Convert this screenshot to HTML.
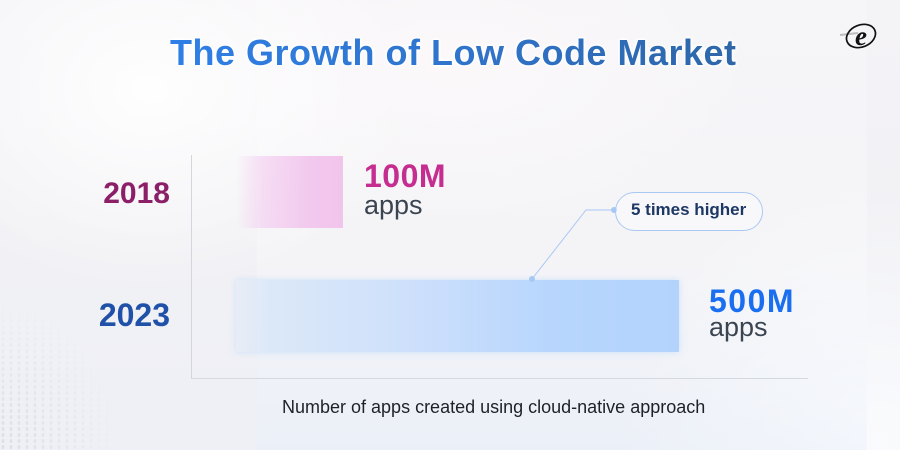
<!DOCTYPE html>
<html>
<head>
<meta charset="utf-8">
<style>
  html,body{margin:0;padding:0;}
  body{width:900px;height:450px;overflow:hidden;position:relative;font-family:"Liberation Sans",sans-serif;
    background:
      radial-gradient(ellipse 260px 200px at 150px 90px, rgba(255,255,255,0.95), rgba(255,255,255,0) 100%),
      radial-gradient(ellipse 300px 160px at 450px 60px, rgba(252,248,250,0.9), rgba(252,248,250,0) 100%),
      radial-gradient(ellipse 260px 260px at 880px 440px, rgba(250,251,253,1), rgba(250,251,253,0) 100%),
      linear-gradient(180deg,#f4f3f6 0%,#f1f1f5 60%,#eef0f6 100%);
  }
  .abs{position:absolute;white-space:nowrap;}
  .title{left:170px;top:31px;font-size:36px;font-weight:bold;letter-spacing:0.5px;line-height:44px;
    background:linear-gradient(90deg,#2f7fe6 0%,#2f74cc 50%,#2e66a8 100%);-webkit-background-clip:text;background-clip:text;color:transparent;
    filter:drop-shadow(0 0 1px #fff) drop-shadow(0 0 1px #fff) drop-shadow(0 0 1px #fff);}
  .year{font-weight:bold;line-height:1;}
  .big{font-weight:bold;line-height:1;}
  .apps{font-size:27px;color:#3b4552;line-height:1;}
</style>
</head>
<body>
<!-- lighter panel band -->
<div class="abs" style="left:257px;top:0;width:610px;height:450px;background:linear-gradient(180deg,rgba(255,255,255,0.15),rgba(255,255,255,0.25) 60%,rgba(230,238,250,0.35));"></div>
<!-- dotted decoration bottom-left -->
<svg class="abs" style="left:0;top:300px" width="120" height="150">
  <defs>
    <pattern id="dp" width="8" height="6" patternUnits="userSpaceOnUse">
      <ellipse cx="3" cy="3" rx="1.4" ry="2" fill="#d9d9e0"/>
    </pattern>
    <radialGradient id="fm" cx="0" cy="1" r="1">
      <stop offset="0" stop-color="#fff" stop-opacity="0.8"/>
      <stop offset="1" stop-color="#fff" stop-opacity="0"/>
    </radialGradient>
    <mask id="mk"><rect width="120" height="150" fill="url(#fm)"/></mask>
  </defs>
  <rect width="120" height="150" fill="url(#dp)" mask="url(#mk)"/>
</svg>

<div class="abs title">The Growth of Low Code Market</div>

<!-- logo -->
<svg class="abs" style="left:838px;top:18px" width="44" height="38">
  <path d="M2 17 L20 15" stroke="#999" stroke-width="2" opacity="0.6"/>
  <ellipse cx="23" cy="18" rx="15" ry="11" transform="rotate(-22 23 18)" fill="none" stroke="#111" stroke-width="1.7"/>
  <text x="23" y="27" text-anchor="middle" font-family="Liberation Serif,serif" font-style="italic" font-weight="bold" font-size="27" fill="#111">e</text>
</svg>

<!-- axes -->
<div class="abs" style="left:191px;top:155px;width:1px;height:224px;background:#d4d6de;"></div>
<div class="abs" style="left:191px;top:378px;width:617px;height:1px;background:#d4d8e2;"></div>

<!-- bars -->
<div class="abs" style="left:236px;top:156px;width:107px;height:72px;background:linear-gradient(90deg,rgba(243,198,238,0) 0%,rgba(243,198,238,0.55) 25%,#f2c8ee 70%,#f1c4ec 100%);"></div>
<div class="abs" style="left:236px;top:280px;width:443px;height:72px;background:linear-gradient(90deg,rgba(200,220,248,0.2) 0%,#dbe8f8 8%,#cde0fb 40%,#b8d6fd 70%,#b3d3fd 100%);box-shadow:0 0 6px rgba(179,211,253,0.6);"></div>

<!-- years -->
<div class="abs year" style="right:730px;top:179px;font-size:30px;color:#8b1f68;">2018</div>
<div class="abs year" style="right:730px;top:299px;font-size:32px;color:#1f51a8;">2023</div>

<!-- values -->
<div class="abs big" style="left:364px;top:160px;font-size:32px;color:#c52d90;letter-spacing:0.5px;">100M</div>
<div class="abs apps" style="left:364px;top:192px;">apps</div>
<div class="abs big" style="left:709px;top:285px;font-size:32px;color:#1a6ef0;letter-spacing:1.5px;">500M</div>
<div class="abs apps" style="left:709px;top:314px;">apps</div>

<!-- connector -->
<svg class="abs" style="left:0;top:0" width="900" height="450">
  <polyline points="614,210 586,210 532,279" fill="none" stroke="#a8c8f4" stroke-width="1"/>
  <circle cx="614" cy="210" r="3" fill="#a8c8f4"/>
  <circle cx="532" cy="279" r="3" fill="#a8c8f4"/>
</svg>
<div class="abs" style="left:615px;top:192px;width:146px;height:37px;border:1px solid #a9c9f3;border-radius:20px;background:rgba(255,255,255,0.35);"></div>
<div class="abs" style="left:631px;top:200px;font-size:17px;font-weight:bold;color:#1e3866;line-height:20px;">5 times higher</div>

<!-- x label -->
<div class="abs" style="left:282px;top:397px;font-size:18px;color:#1e2228;line-height:20px;">Number of apps created using cloud-native approach</div>
</body>
</html>
